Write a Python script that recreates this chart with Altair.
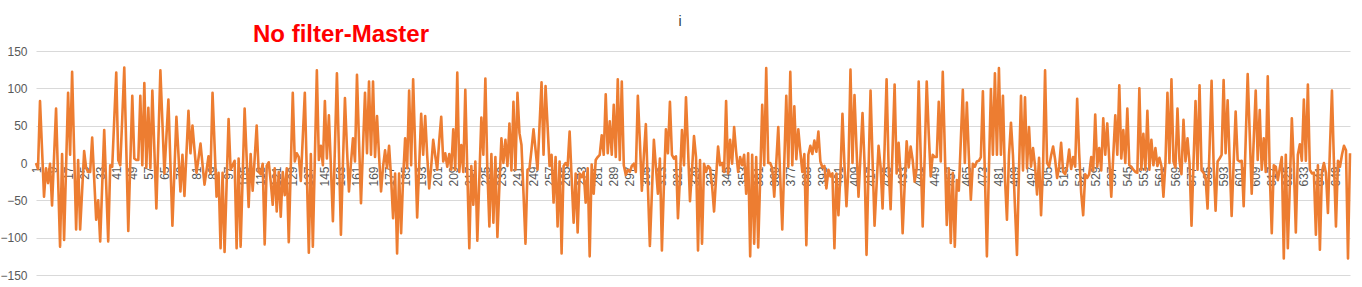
import altair as alt
import pandas as pd

values = [
    0, -8, 83, 19, -45, -7, -27, -1, -57, 8, 73, -20, -112, 12, -103, -5, 94, 11, 122, 16,
    -89, 4, -89, -37, 16, -7, -12, -12, 34, -21, -76, -50, -105, -30, 44, -30, -105, -3, -5, 58,
    121, 4, -3, 60, 128, 20, -91, 0, 90, 6, 4, 4, 90, -3, 107, -6, 74, -7, 97, 18,
    -61, 30, 124, 55, -14, 35, 85, 0, -84, -10, 62, 12, -38, 11, -44, 13, 70, 13, 50, 18,
    -13, 6, 26, -2, -29, -10, 9, -14, 94, 25, -45, -13, -114, -13, -119, -30, 59, -9, -3, 3,
    -114, 6, -112, -20, 73, 7, -59, 12, -37, 6, 50, -12, -15, -1, -109, -4, 1, -25, -56, -7,
    -65, -12, -72, -12, -43, -7, -106, -6, 94, 2, 13, 8, -24, 35, 94, -13, -120, 12, -112, 6,
    124, 4, 23, -3, 83, 6, 64, -5, -78, 20, 120, 15, -96, 0, 87, 20, -38, 0, 33, 2,
    118, 30, -54, 20, 94, 13, 109, 11, 109, 8, 63, 10, -38, -5, 17, -7, 23, -20, -74, -14,
    -121, -14, -94, -20, 33, -7, 97, -3, 112, 20, -73, -5, 66, 11, 63, 10, -34, -5, 31, 10,
    -9, 30, 62, 2, 13, -5, 12, -9, 45, -9, 121, -12, 24, -12, 98, -12, -114, -4, -56, 2,
    -104, -20, 61, 11, 113, -10, -85, 12, -80, 8, -99, -30, 33, 0, 31, -4, 53, -10, 82, -9,
    94, 40, 24, -40, -108, -9, -7, 18, 45, 18, -9, 50, 108, 11, 103, 50, -4, 11, -53, 8,
    -85, 2, -121, -4, 0, -4, 42, -20, -80, -14, -93, -14, -19, -12, -53, -7, -125, -2, -41, 4,
    8, 11, 37, 11, 92, 13, 56, 11, 78, 8, 112, 4, 109, -3, -16, -9, -12, -4, -1, -12,
    90, 30, -37, 10, 52, -30, -111, -40, 31, -5, -41, 6, -117, -30, 45, 13, 82, 11, 6, 9,
    -74, -20, 44, -3, 88, 20, -51, -10, 36, 8, -117, 4, -108, -1, -12, -4, -7, -30, -65, -20,
    22, -3, 0, -12, 83, -14, 31, -1, 48, 15, -12, 8, -3, 11, -41, 13, -125, 11, -108, 8,
    -113, -20, 78, -3, 127, 0, 0, -7, -45, 0, 48, -20, -89, 0, 90, -5, 122, -3, 76, 5,
    45, 15, -12, 12, -110, 11, 23, 12, 30, 15, 42, 2, -6, -4, -34, -9, -18, -14, -114, -14,
    -70, -14, 66, -3, -58, -5, 125, 0, 91, 20, -45, 10, 67, 0, -123, -10, 97, 5, -84, -30,
    23, -5, -61, 20, 112, -5, -62, 20, 105, -14, 27, -16, -94, -30, 29, -6, 22, 4, -25, -7,
    109, 10, -85, 10, 109, 40, -18, 11, 8, 8, 82, 2, 122, 20, -83, -7, -107, -13, -112, -23,
    -37, 30, 98, 0, 81, 10, -49, -1, -5, 2, 3, 8, 96, -15, -125, -10, 99, 11, 120, 11,
    127, 11, 90, -20, -76, 10, 54, 10, -60, -123, -10, 90, -10, 88, -7, 48, -5, 20, -4, -42,
    7, -70, -5, 124, 0, -5, 10, 22, 5, -20, -5, 27, -12, -15, -5, 18, -8, 8, -5, 86,
    13, -40, -70, -15, -20, -15, 8, -10, 65, -5, 20, -10, 60, 11, 53, 4, -45, 10, 64, 11,
    104, 6, 44, 0, 73, -3, -5, -9, -12, -13, 100, -9, 39, -9, 70, -9, 31, -3, 20, -4,
    7, -4, -45, 0, 94, 0, 112, 2, -6, 73, 3, -15, 58, 2, 33, 0, -84, 0, 83, -9,
    104, -10, -13, -20, -61, 20, 110, 0, -64, 2, 6, 11, 111, 13, 84, 4, -71, 0, 69, 4,
    2, 3, -58, 30, 119, 40, -41, 30, 97, 4, 71, -9, 33, -12, 116, -14, -94, -3, -5, -23,
    -7, 8, -128, 11, -114, -30, 60, -3, -93, 11, 25, 3, 85, 3, 105, -9, -14, -13, -96, -3,
    -116, -12, 0, -13, -67, 20, 97, 0, -85, 3, -5, 11, 23, 17, -128, 13,
]
categories = list(range(1, len(values) + 1))
tick_labels = list(range(1, len(values), 8))
y_ticks = [-150, -100, -50, 0, 50, 100, 150]
title_text = ["No filter-Master"]
marker_text = ["i"]

df = pd.DataFrame({"cat": categories, "val": values})

line = alt.Chart(df).mark_line(color="#ED7D31", strokeWidth=2.6, strokeJoin="round").encode(
    x=alt.X(
        "cat:Q",
        scale=alt.Scale(domain=[1, len(values)], nice=False, zero=False),
        axis=alt.Axis(
            values=tick_labels, labelAngle=270, offset=-112, domainColor="#d9d9d9",
            ticks=False, grid=False, labelColor="#595959", labelFont="Liberation Sans",
            labelFontSize=12, labelPadding=3, title=None, labelFlush=False,
            labelOverlap=False,
        ),
    ),
    y=alt.Y(
        "val:Q",
        scale=alt.Scale(domain=[-150, 150], nice=False, zero=False),
        axis=alt.Axis(
            values=y_ticks, grid=True, gridColor="#d9d9d9", domain=False, ticks=False,
            labelColor="#595959", labelFont="Liberation Sans", labelFontSize=12,
            labelPadding=9, title=None,
        ),
    ),
)

title = alt.Chart(pd.DataFrame({"t": title_text})).mark_text(
    color="#FF0000", font="Liberation Sans", fontSize=24, fontWeight="bold",
    align="center", baseline="middle",
).encode(x=alt.value(305), y=alt.value(-16), text="t:N")

marker = alt.Chart(pd.DataFrame({"t": marker_text})).mark_text(
    color="#333333", font="Liberation Sans", fontSize=14,
    align="center", baseline="middle",
).encode(x=alt.value(644), y=alt.value(-29), text="t:N")

chart = alt.layer(line, title, marker).properties(
    width=1314, height=224,
    padding={"left": 36, "top": 51, "right": 12, "bottom": 12},
    autosize=alt.AutoSizeParams(type="none"),
    background="white",
).configure_view(stroke=None)

chart.save("out.html", embed_options={"renderer": "svg", "actions": False})
